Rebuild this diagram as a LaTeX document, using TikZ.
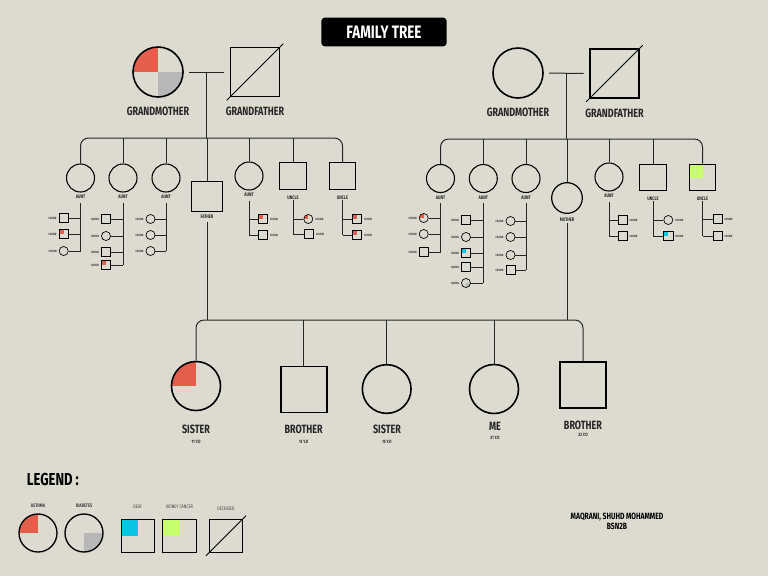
\documentclass[tikz,border=0pt]{standalone}
\usepackage{fontspec}
\setmainfont{Fira Sans}[FakeStretch=0.75]
\usetikzlibrary{calc}

\definecolor{paper}{RGB}{221,219,208}
\definecolor{asthmared}{RGB}{228,94,76}
\definecolor{diabgray}{RGB}{183,183,183}
\definecolor{deafblue}{RGB}{10,196,226}
\definecolor{kidneylime}{RGB}{200,255,110}

\tikzset{
  fem/.style={circle, draw, inner sep=0pt, minimum size=#1},
  fem/.default=21pt,
  mal/.style={rectangle, draw, inner sep=0pt, minimum size=#1},
  mal/.default=20pt,
  quad/.style 2 args={path picture={\fill[#1] (path picture bounding box.center) rectangle (path picture bounding box.#2);}},
  asthma/.style={quad={asthmared}{north west}},
  diabetes/.style={quad={diabgray}{south east}},
  deaf/.style={quad={deafblue}{north west}},
  kidney/.style={quad={kidneylime}{north west}},
  asthdiab/.style={path picture={
    \fill[asthmared] (path picture bounding box.center) rectangle (path picture bounding box.north west);
    \fill[diabgray] (path picture bounding box.center) rectangle (path picture bounding box.south east);}},
  tag/.style={font=\bfseries\fontsize{3.8}{4}\selectfont, inner sep=0pt, text=black!85},
  ctag/.style={font=\bfseries\fontsize{2.3}{2.5}\selectfont, inner sep=0pt, text=black!80},
  bigtag/.style={font=\bfseries\fontsize{9}{10}\selectfont, inner sep=0pt, text=black!85},
  agetag/.style={font=\bfseries\fontsize{3.5}{4}\selectfont, inner sep=0pt, text=black!85},
  lgtag/.style={font=\fontsize{3.8}{4}\selectfont, inner sep=0pt, text=black!75},
  cf/.style={fem=6.8pt, line width=0.5pt, label={[ctag, label distance=1.5pt]#1:COUSIN}},
  cm/.style={mal=6.8pt, line width=0.5pt, label={[ctag, label distance=1.5pt]#1:COUSIN}},
  cfA/.style={cf=#1, asthma}, cmA/.style={cm=#1, asthma},
  cmD/.style={cm=#1, deaf}, cfG/.style={cf=#1, diabetes},
  aunt/.style={fem=21pt, line width=0.8pt, label={[tag, label distance=2pt]below:AUNT}},
  uncle/.style={mal=20pt, line width=0.8pt, label={[tag, label distance=4pt]below:UNCLE}},
  link/.style={line width=0.75pt, black!85},
  big/.style={line width=1.2pt}
}

\begin{document}
\begin{tikzpicture}[x=0.75pt, y=-0.75pt]
  \fill[paper] (0,0) rectangle (768,576);
  \useasboundingbox (0,0) rectangle (768,576);

  % title
  \node[fill=black, rounded corners=2.5pt, text=white, minimum width=94pt, minimum height=21.5pt,
        font=\bfseries\fontsize{13.5}{14}\selectfont] (title) at (384,32) {FAMILY TREE};

  % grandparents
  \node[fem=37.5pt, big, asthdiab, label={[bigtag, label distance=6.5pt]below:GRANDMOTHER}] (gmL) at (158,72) {};
  \node[mal=37pt, big, label={[bigtag, label distance=7pt]below:GRANDFATHER}] (gfL) at (255,72) {};
  \node[fem=37.5pt, big, label={[bigtag, label distance=7pt]below:GRANDMOTHER}] (gmR) at (518,73) {};
  \node[mal=37pt, big, label={[bigtag, label distance=7pt]below:GRANDFATHER}] (gfR) at (614.5,73.5) {};
  \draw[line width=0.6pt, shorten <=-3pt, shorten >=-3pt] (gfL.south west) -- (gfL.north east);
  \draw[line width=0.6pt, shorten <=-3pt, shorten >=-3pt] (gfR.south west) -- (gfR.north east);

  \draw[link, shorten <=4pt, shorten >=4pt] (gmL) -- (gfL);
  \draw[link, shorten <=4pt, shorten >=4pt] (gmR) -- (gfR);
  \coordinate (mL) at ($(gmL.east)!0.5!(gfL.west)$);
  \coordinate (mR) at ($(gmR.east)!0.5!(gfR.west)$);
  \draw[link] (mL) -- (mL |- 0,138);
  \draw[link] (mR) -- (mR |- 0,139);

  % father's siblings
  \node[aunt] (a1) at (80.5,178) {};
  \node[aunt] (a2) at (123,178) {};
  \node[aunt] (a3) at (166,178) {};
  \node[mal=23pt, line width=0.9pt, label={[tag, label distance=1.5pt]below:FATHER}] (fa) at (207,196.5) {};
  \node[aunt] (a4) at (249,176) {};
  \node[uncle] (u1) at (293,176) {};
  \node[uncle] (u2) at (342.5,176) {};

  \draw[link, rounded corners=6pt] (a1.north) -- (a1.north |- 0,138) -- (u2.north |- 0,138) -- (u2.north);
  \foreach \n in {a2,a3,fa,a4,u1}
    \draw[link] (\n.north |- 0,138) -- (\n.north);

  % mother's siblings
  \node[aunt] (b1) at (440.5,178.5) {};
  \node[aunt] (b2) at (483.3,178.5) {};
  \node[aunt] (b3) at (526,178.5) {};
  \node[fem=23pt, line width=0.9pt, label={[tag, label distance=3pt]below:MOTHER}] (mo) at (567,198) {};
  \node[aunt] (b4) at (609,177) {};
  \node[uncle] (v1) at (653,177.5) {};
  \node[uncle, kidney] (v2) at (702.5,177.5) {};

  \draw[link, rounded corners=6pt] (b1.north) -- (b1.north |- 0,139) -- (v2.north |- 0,139) -- (v2.north);
  \foreach \n in {b2,b3,mo,b4,v1}
    \draw[link] (\n.north |- 0,139) -- (\n.north);

  % cousins
  \foreach \nm/\cx/\cy/\st/\sd in {
      c11/63.5/218/cm/left, c12/63.5/234/cmA/left, c13/63.7/251/cf/left,
      c21/106/219/cm/left, c22/106/236/cf/left, c23/106/252/cm/left, c24/106/265/cmA/left,
      c31/150.5/219/cf/left, c32/150.5/235/cf/left, c33/150.5/251/cf/left,
      c41/263/219/cmA/right, c42/263/235/cm/right,
      c51/308.3/219/cfA/right, c52/309/234/cm/right,
      c61/357/219/cmA/right, c62/357/235/cmA/right,
      d11/423.7/218/cfA/left, d12/423.7/234/cf/left, d13/423.7/252/cm/left,
      d21/466/220/cm/left, d22/466/237/cf/left, d23/466/253/cmD/left, d24/466/267/cm/left, d25/466/283/cfG/left,
      d31/510.5/221/cf/left, d32/510.5/237/cf/left, d33/510.5/255/cf/left, d34/510.5/270/cm/left,
      d41/622.5/220/cm/right, d42/622.5/236/cm/right,
      d51/668.3/220/cf/right, d52/668.3/236/cmD/right,
      d61/717.5/219/cm/right, d62/717.5/236/cm/right}
    \node[\st=\sd] (\nm) at (\cx,\cy) {};

  \foreach \pa/\kids/\last in {
      a1/{c11,c12,c13}/c13, a2/{c21,c22,c23,c24}/c24, a3/{c31,c32,c33}/c33,
      a4/{c41,c42}/c42, u1/{c51,c52}/c52, u2/{c61,c62}/c62,
      b1/{d11,d12,d13}/d13, b2/{d21,d22,d23,d24,d25}/d25, b3/{d31,d32,d33,d34}/d34,
      b4/{d41,d42}/d42, v1/{d51,d52}/d52, v2/{d61,d62}/d62} {
    \draw[link] (\pa.south) ++(0,10) -- (\pa |- \last);
    \foreach \k in \kids
      \draw[link] (\k) -- (\k -| \pa);
  }

  % children
  \node[fem=36.75pt, big, asthma] (sis1) at (196,386) {};
  \node[mal=34.5pt, big] (bro1) at (303.7,389.3) {};
  \node[fem=36.5pt, big] (sis2) at (386.7,389) {};
  \node[fem=36.75pt, big] (me) at (494,389) {};
  \node[mal=34.5pt, big] (bro2) at (583,385) {};

  \node[bigtag] (sis1lbl) at (196,429) {SISTER};
  \node[agetag] (sis1age) at (196,441.7) {11 Y.O};
  \node[bigtag] (bro1lbl) at (303.7,429) {BROTHER};
  \node[agetag] (bro1age) at (303.7,441.7) {13 Y.O};
  \node[bigtag] (sis2lbl) at (387,429) {SISTER};
  \node[agetag] (sis2age) at (387,441.7) {15 Y.O};
  \node[bigtag] (melbl) at (495,426) {ME};
  \node[agetag] (meage) at (495,438) {21 Y.O};
  \node[bigtag] (bro2lbl) at (583,425) {BROTHER};
  \node[agetag] (bro2age) at (583,435) {23 Y.O};

  \draw[link, rounded corners=6pt] (sis1.north) -- (sis1.north |- 0,320) -- (bro2.north |- 0,320) -- (bro2.north);
  \foreach \n in {bro1,sis2,me}
    \draw[link] (\n.north |- 0,320) -- (\n.north);
  \draw[link] (fa.south) ++(0,10) -- (fa |- 0,320);
  \draw[link] (mo.south) ++(0,9) -- (mo |- 0,320);

  % legend
  \node[font=\bfseries\fontsize{13}{14}\selectfont, anchor=west, inner sep=0pt] (legend) at (26.7,479) {LEGEND :};
  \node[fem=28.5pt, line width=1pt, asthma, label={[lgtag, font=\bfseries\fontsize{3.8}{4}\selectfont, label distance=4pt]above:ASTHMA}] (lgA) at (38,533) {};
  \node[fem=28.5pt, line width=1pt, diabetes, label={[lgtag, font=\bfseries\fontsize{3.8}{4}\selectfont, label distance=4pt]above:DIABETES}] (lgB) at (84,533) {};
  \node[mal=25pt, line width=0.8pt, deaf, label={[lgtag, label distance=7.5pt]above:DEAF}] (lgC) at (137.7,535.7) {};
  \node[mal=25pt, line width=0.8pt, kidney, label={[lgtag, label distance=7.5pt]above:KIDNEY CANCER}] (lgD) at (179.5,535.7) {};
  \node[mal=25pt, line width=0.8pt, label={[lgtag, label distance=5.5pt]above:DECEASED}] (lgE) at (226,535.7) {};
  \draw[line width=0.6pt, shorten <=-3pt, shorten >=-3pt] (lgE.south west) -- (lgE.north east);

  % author
  \node[font=\bfseries\fontsize{6.8}{5.8}\selectfont, align=center, inner sep=0pt] (author) at (617,521.5) {MAQRANI, SHUHD MOHAMMED\\BSN2B};
\end{tikzpicture}
\end{document}
